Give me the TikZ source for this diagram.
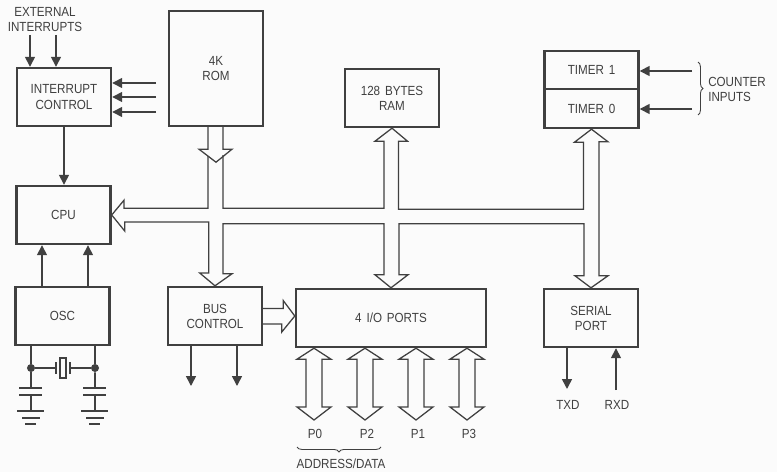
\documentclass[tikz,border=0pt]{standalone}
\usepackage{fontspec}
\setmainfont[FakeStretch=0.88,WordSpace=1.5]{Liberation Sans}
\usepackage{xcolor}
\usetikzlibrary{calc,arrows.meta}
\usetikzlibrary{decorations.pathreplacing}
\definecolor{paper}{HTML}{FBFBFB}
\definecolor{ink}{HTML}{404040}
\tikzset{
 blockbox/.style={rectangle,draw=ink,line width=1.7pt,inner sep=0pt,minimum width=2.35cm,minimum height=1.45cm,align=center,text=ink},
 tag/.style={inner sep=0pt,align=center,text=ink},
 sigarrow/.style={draw=ink,line width=1.1pt,-{Triangle[length=7pt,width=7pt]}},
 sigline/.style={draw=ink,line width=1.1pt},
 busline/.style={draw=ink,line width=0.9pt,line join=miter},
 fatboth/.style={busline,to path={(\tikztostart) -- ++(17,11) -- ++(-9,0) -- ($(\tikztotarget)+(8,-13)$) -- ++(9,0) -- (\tikztotarget) -- ++(-17,-13) -- ++(9,0) -- ($(\tikztostart)+(-8,11)$) -- ++(-9,0) -- cycle}},
 bracket/.style={draw=ink,line width=0.6pt,decorate,decoration={brace,amplitude=3.5pt}}
}
\begin{document}
\begin{tikzpicture}[x=0.025cm,y=-0.025cm,font=\fontsize{9.4}{10.7}\selectfont]
 \useasboundingbox (0,0) rectangle (777,472);
 \fill[paper] (0,0) rectangle (777,472);

 \node at (64,97) [blockbox] (intctl) {INTERRUPT\\CONTROL};
 \node at (63.5,215) [blockbox] (cpu) {CPU};
 \node at (62.5,316) [blockbox] (osc) {OSC};
 \node at (216,68.5) [blockbox,minimum height=2.875cm] (rom) {4K\\ROM};
 \node at (215,316) [blockbox] (busctl) {BUS\\CONTROL};
 \node at (391,318) [blockbox,minimum width=4.75cm] (ports) {4 I/O PORTS};
 \node at (591,318) [blockbox] (serial) {SERIAL\\PORT};
 \node at (392,98) [blockbox] (ram) {128 BYTES\\RAM};
 \node at (591.5,70) [blockbox,minimum height=0.95cm] (timer1) {TIMER 1};
 \node at (591.5,108.5) [blockbox,minimum height=0.975cm] (timer0) {TIMER 0};

 \node at (45,12) [tag] (extlabel) {EXTERNAL};
 \node at (45,27) [tag] (intlabel) {INTERRUPTS};
 \node at (708,89.5) [tag,anchor=west,align=left] (cntlabel) {COUNTER\\INPUTS};
 \node at (315,434) [tag] (p0) {P0};
 \node at (367,434) [tag] (p2) {P2};
 \node at (418,434) [tag] (p1) {P1};
 \node at (469,434) [tag] (p3) {P3};
 \node at (341,464) [tag] (addr) {ADDRESS/DATA};
 \node at (568,405) [tag] (txd) {TXD};
 \node at (617,405) [tag] (rxd) {RXD};

 % interrupts and clock
 \coordinate (ext1) at (30,35); \coordinate (ext2) at (56,35);
 \draw[sigarrow] (ext1)--(ext1 |- intctl.north); \draw[sigarrow] (ext2)--(ext2 |- intctl.north);
 \coordinate (in1) at (156,83); \coordinate (in2) at (156,97); \coordinate (in3) at (156,112);
 \draw[sigarrow] (in1)--(in1 -| intctl.east); \draw[sigarrow] (in2)--(in2 -| intctl.east);
 \draw[sigarrow] (in3)--(in3 -| intctl.east);
 \draw[sigarrow] (intctl.south)--(intctl.south |- cpu.north);
 \coordinate (clk1) at (42,287); \coordinate (clk2) at (88,287);
 \draw[sigarrow] (clk1)--(clk1 |- cpu.south); \draw[sigarrow] (clk2)--(clk2 |- cpu.south);

 % bus
 \draw[busline] ($(rom.south)+(-8,0)$)-- ++(0,22)-- ++(-9,0)-- ++(17,13)-- ++(16,-13)-- ++(-9,0)-- ++(0,-22);
 \draw[busline] ($(rom.south)+(-8,29)$)-- ++(0,52)-- ++(-84,0)-- ++(0,-8)--(cpu.east)-- ++(13,16)-- ++(0,-9)-- ++(84,0)
   -- ++(0,51)-- ++(-9,0)--(busctl.north)-- ++(17,-12)-- ++(-9,0)-- ++(0,-50)-- ++(161,0)
   -- ++(0,51)-- ++(-9,0)--(ports.north)-- ++(17,-13)-- ++(-9,0)-- ++(0,-51)-- ++(185,0)
   -- ++(0,52)-- ++(-9,0)--(serial.north)-- ++(17,-12)-- ++(-9,0)-- ++(0,-134)-- ++(9,0)
   --(timer0.south)-- ++(-17,13)-- ++(9,0)-- ++(0,67)-- ++(-185,0)-- ++(0,-68)-- ++(9,0)
   --(ram.south)-- ++(-17,13)-- ++(9,0)-- ++(0,67)-- ++(-161,0)-- ++(0,-53);

 \draw[busline] ($(busctl.east)+(0,-7.5)$)-- ++(20,0)-- ++(0,-8)--(ports.west |- busctl.east)-- ++(-13,16)-- ++(0,-8)-- ++(-20,0);

 % ports
 \coordinate (p0end) at (314,420); \coordinate (p2end) at (365,420);
 \coordinate (p1end) at (416,420); \coordinate (p3end) at (467,420);
 \draw[fatboth] (ports.south -| p0end) to (p0end);
 \draw[fatboth] (ports.south -| p2end) to (p2end);
 \draw[fatboth] (ports.south -| p1end) to (p1end);
 \draw[fatboth] (ports.south -| p3end) to (p3end);
 \coordinate (addrr) at (381,447); \coordinate (addrl) at (297,447);
 \draw[bracket] (addrr)--(addrl);

 % serial, timers, bus control outputs
 \coordinate (txdend) at (567,389); \coordinate (rxdstart) at (616,390);
 \draw[sigarrow] (serial.south -| txdend)--(txdend);
 \draw[sigarrow] (rxdstart)--(rxdstart |- serial.south);
 \coordinate (cnt1) at (692,71); \coordinate (cnt0) at (692,109);
 \draw[sigarrow] (cnt1)--(cnt1 -| timer1.east); \draw[sigarrow] (cnt0)--(cnt0 -| timer0.east);
 \coordinate (cntt) at (698,62); \coordinate (cntb) at (698,115);
 \draw[bracket] (cntt)--(cntb);
 \coordinate (busout1) at (191,386); \coordinate (busout2) at (237,386);
 \draw[sigarrow] (busout1 |- busctl.south)--(busout1); \draw[sigarrow] (busout2 |- busctl.south)--(busout2);

 % crystal
 \node at (63,368) [rectangle,draw=ink,line width=1pt,inner sep=0pt,minimum width=0.15cm,minimum height=0.5cm] (xtal) {};
 \coordinate (platel) at (56,368); \coordinate (plater) at (70,368);
 \draw[sigline] ($(platel)+(0,-6)$)--($(platel)+(0,6)$);
 \draw[sigline] ($(plater)+(0,-6)$)--($(plater)+(0,6)$);

 \node at (31,368) [circle,fill=ink,inner sep=0pt,minimum size=0.2cm] (dotl) {};
 \node at (95,368) [circle,fill=ink,inner sep=0pt,minimum size=0.2cm] (dotr) {};
 \draw[sigline] (dotl)--(platel); \draw[sigline] (plater)--(dotr);
 \draw[sigline] (osc.south -| dotl)--(dotl); \draw[sigline] (osc.south -| dotr)--(dotr);

 \coordinate (capa) at (31,388); \coordinate (capb) at (31,395); \coordinate (gnd) at (31,411);
 \draw[sigline] (dotl)--(capa); \draw[sigline] (capb)--(gnd);
 \draw[sigline] (19,388)--(42,388); \draw[sigline] (19,395)--(42,395);
 \draw[sigline] (17,411)--(44,411); \draw[sigline] (22,418)--(40,418); \draw[sigline] (25,424)--(36,424);
 \begin{scope}[xshift={1.6cm}]
 \coordinate (capa) at (31,388); \coordinate (capb) at (31,395); \coordinate (gnd) at (31,411);
 \draw[sigline] (dotr)--(capa); \draw[sigline] (capb)--(gnd);
 \draw[sigline] (19,388)--(42,388); \draw[sigline] (19,395)--(42,395);
 \draw[sigline] (17,411)--(44,411); \draw[sigline] (22,418)--(40,418); \draw[sigline] (25,424)--(36,424);
 \end{scope}
\end{tikzpicture}
\end{document}
